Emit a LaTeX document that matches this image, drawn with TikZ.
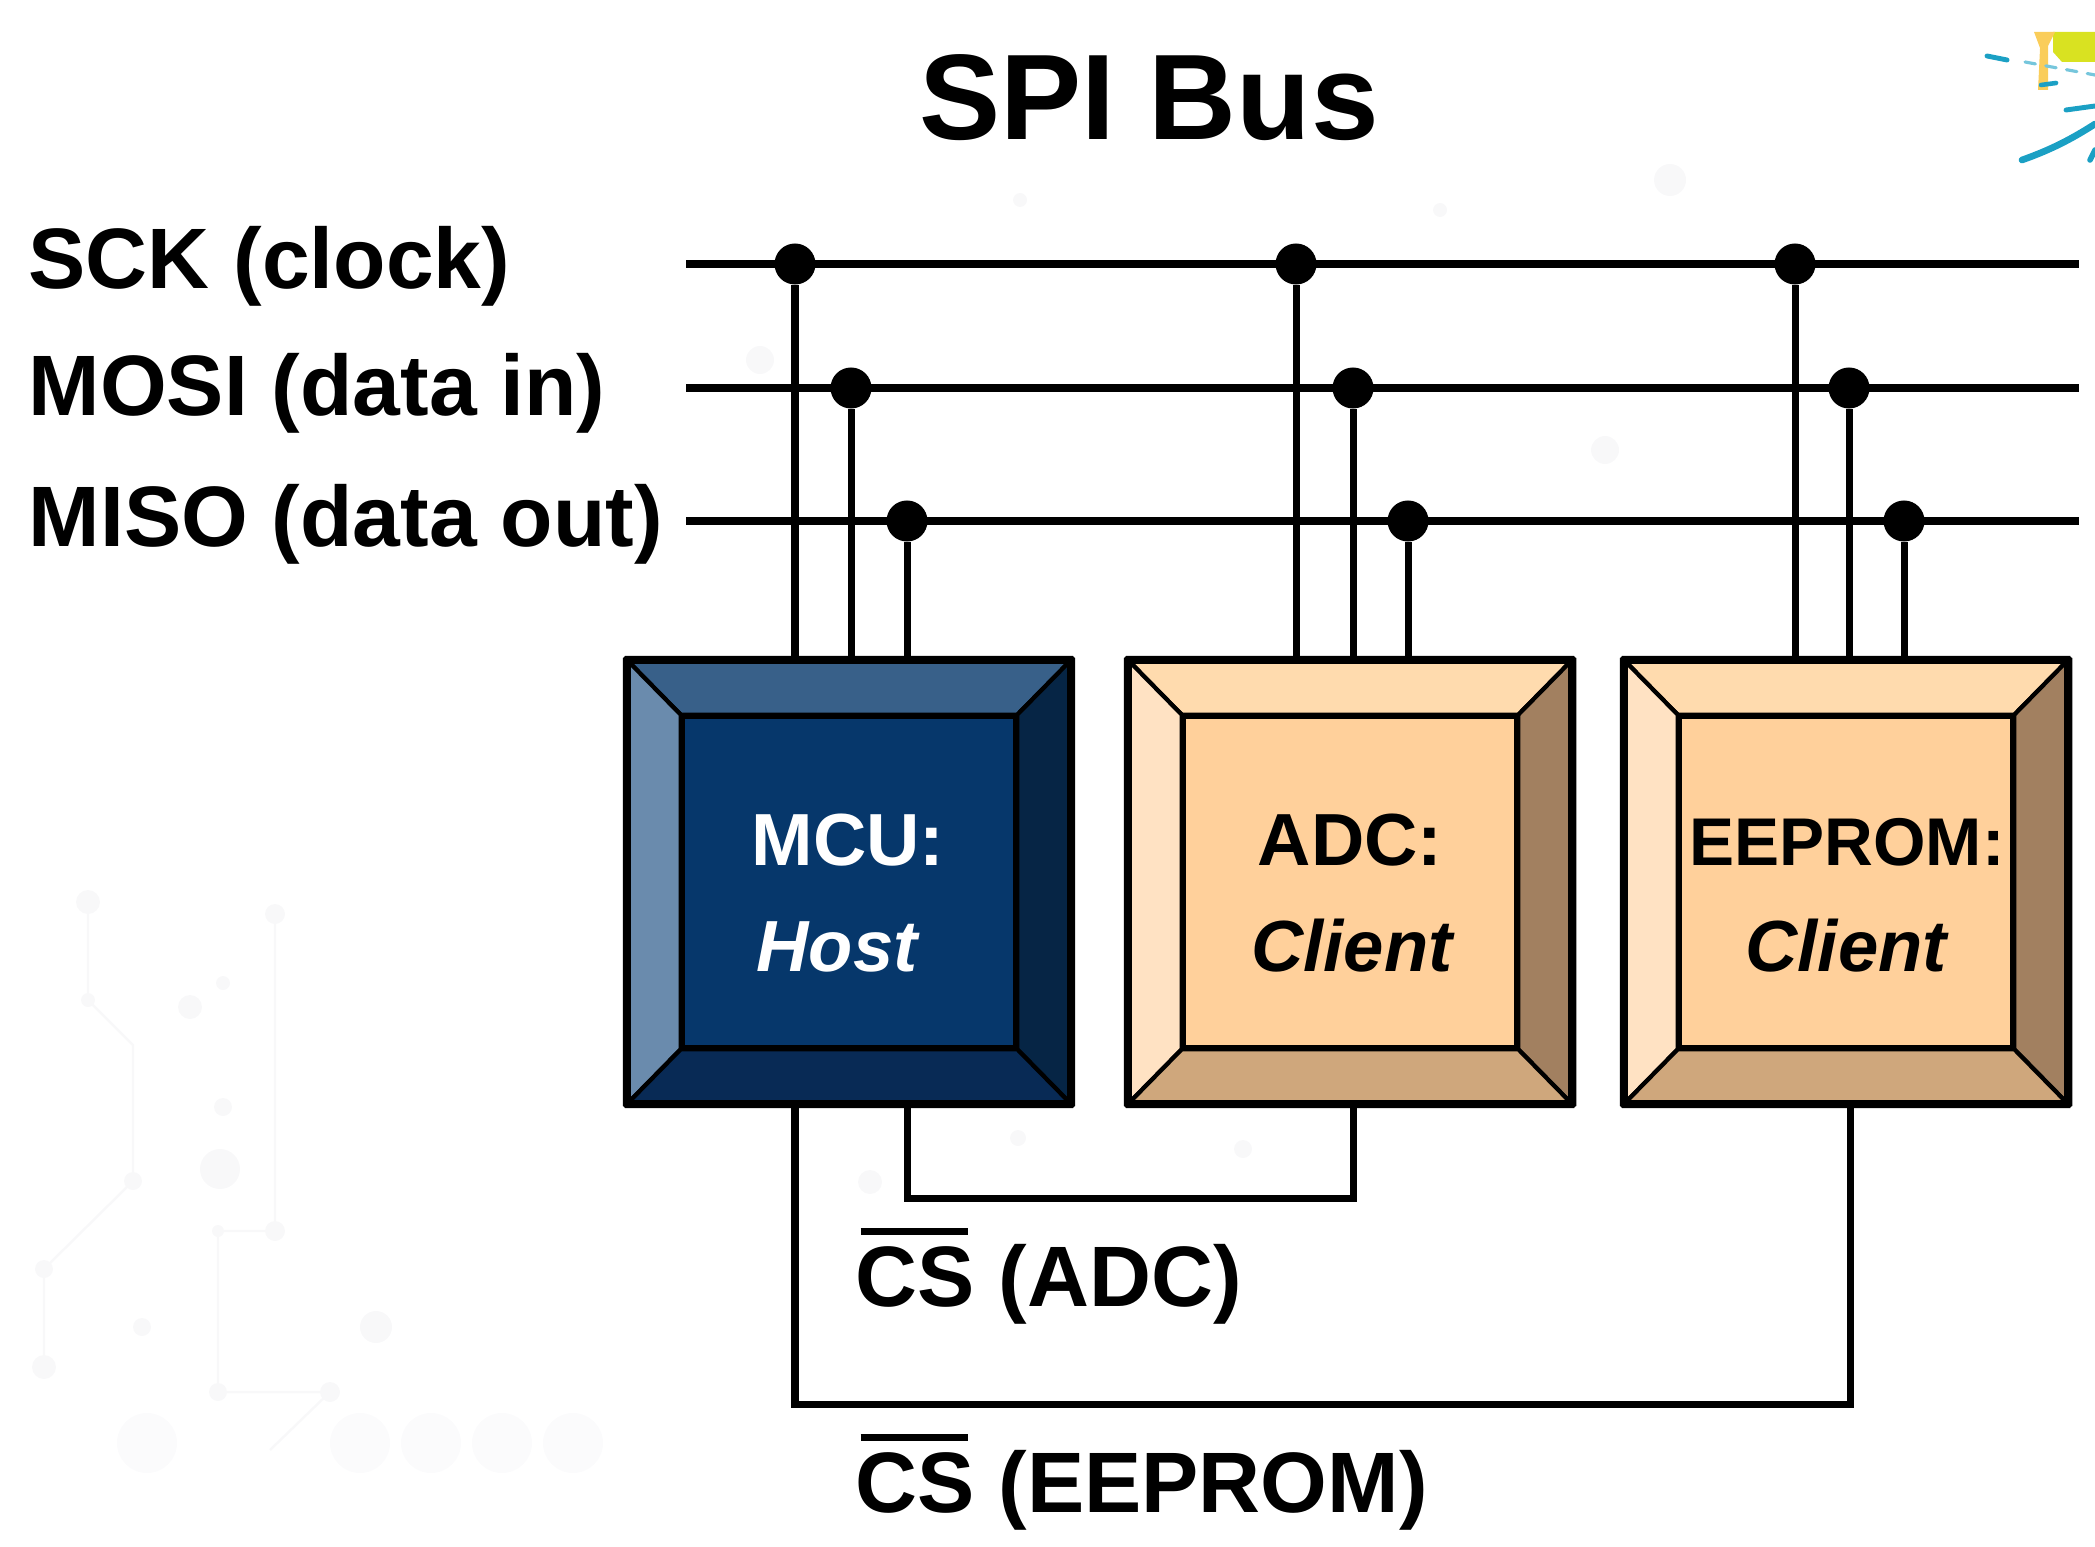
\documentclass[tikz,border=0pt]{standalone}
\usepackage{fontspec}
\setmainfont{Liberation Sans}
\usetikzlibrary{calc}

\definecolor{mcuface}{RGB}{6,55,107}
\definecolor{mcutop}{RGB}{56,96,137}
\definecolor{mculeft}{RGB}{106,139,173}
\definecolor{mcuright}{RGB}{6,37,69}
\definecolor{mcubottom}{RGB}{8,42,85}
\definecolor{clientface}{RGB}{255,208,155}
\definecolor{clienttop}{RGB}{255,219,174}
\definecolor{clientleft}{RGB}{255,226,195}
\definecolor{clientright}{RGB}{162,128,96}
\definecolor{clientbottom}{RGB}{207,167,124}
\definecolor{faint}{RGB}{248,248,249}
\definecolor{fainter}{RGB}{251,251,252}
\definecolor{logoblue}{RGB}{27,160,196}
\definecolor{logolime}{RGB}{217,226,33}
\definecolor{logoamber}{RGB}{250,205,90}

\tikzset{
  wire/.style={line width=2pt},
  dot/.style={circle, fill=black, minimum size=0.41cm, inner sep=0pt},
  chip/.style={rectangle, draw=black, line width=1.7pt, minimum width=4.42cm, minimum height=4.42cm},
  face/.style={rectangle, draw=black, line width=1.2pt, minimum width=3.32cm, minimum height=3.3cm},
  bevel/.style={draw=black, line width=1.2pt, line join=bevel},
  label/.style={font=\fontsize{24.4}{28}\selectfont\bfseries, anchor=base west, inner sep=0pt},
  chipname/.style={font=\fontsize{21}{24}\selectfont\bfseries, anchor=base, inner sep=0pt},
  chiprole/.style={font=\fontsize{20.6}{24}\selectfont\bfseries\itshape, anchor=base, inner sep=0pt},
  trace/.style={draw=faint, line width=0.7pt},
  spot/.style={fill=faint},
}

% one bevelled box: name, centre x, colour prefix
\newcommand{\chipbox}[3]{
  \node (#1) [chip, fill=#3face] at (#2,882) {};
  \node (#1-face) [face, fill=#3face] at (#2,882) {};
  \filldraw[#3top, bevel] (#1.north west) -- (#1.north east) -- (#1-face.north east) -- (#1-face.north west) -- cycle;
  \filldraw[#3left, bevel] (#1.north west) -- (#1.south west) -- (#1-face.south west) -- (#1-face.north west) -- cycle;
  \filldraw[#3right, bevel] (#1.north east) -- (#1.south east) -- (#1-face.south east) -- (#1-face.north east) -- cycle;
  \filldraw[#3bottom, bevel] (#1.south west) -- (#1.south east) -- (#1-face.south east) -- (#1-face.south west) -- cycle;
  \node [chip, fill=none] at (#2,882) {};
}
\newcommand{\barcs}{\rlap{\hspace{1.4pt}\rule[20.2pt]{30.4pt}{2pt}}CS}

\begin{document}
\begin{tikzpicture}[x=0.01cm, y=-0.01cm]
  \useasboundingbox (0,0) rectangle (2095,1546);

  % faint circuit behind everything
  \draw[trace] (88,902) -- (88,1000) -- (133,1045) -- (133,1181) -- (44,1269) -- (44,1367);
  \draw[trace] (275,914) -- (275,1231) -- (218,1231) -- (218,1392) -- (330,1392) -- (270,1450);
  \foreach \x/\y/\r in {88/902/12, 88/1000/7, 133/1181/9, 44/1269/9, 44/1367/12, 275/914/10, 275/1231/10,
      218/1231/6, 218/1392/9, 330/1392/10, 190/1007/12, 223/983/7, 223/1107/9, 220/1169/20, 376/1327/16,
      142/1327/9, 870/1182/12, 1018/1138/8, 1243/1149/9, 1670/180/16, 1440/210/7, 1605/450/14, 760/360/14,
      1020/200/7}
    \fill[spot] (\x,\y) circle (\r);
  \foreach \x in {147,360,431,502,573}
    \fill[fainter] (\x,1443) circle (30);

  % logo corner
  \fill[logolime] (2053,32) -- (2095,32) -- (2095,62) -- (2062,62) -- (2053,52) -- cycle;
  \fill[logoamber] (2034,32) -- (2055,32) -- (2048,46) -- (2048,90) -- (2038,90) -- (2040,48) -- cycle;
  \draw[logoblue, line width=1.4pt, line cap=round] (1987,56) -- (2007,60);
  \draw[logoblue!60, line width=0.9pt, line cap=round, dashed] (2025,62) -- (2095,75);
  \draw[logoblue, line width=1.3pt, line cap=round] (2041,85) -- (2056,83);
  \draw[logoblue, line width=1.4pt, line cap=round] (2066,110) -- (2095,106);
  \draw[logoblue, line width=1.9pt, line cap=round] (2022,160) .. controls (2050,150) and (2070,140) .. (2095,124);
  \draw[logoblue, line width=1.6pt, line cap=round] (2090,160) -- (2095,150);

  \node (title) [font=\fontsize{34.6}{40}\selectfont\bfseries, anchor=base, inner sep=0pt] at (1149,140) {SPI Bus};

  \node (sck-label) [label] at (28,288) {SCK (clock)};
  \node (mosi-label) [label] at (28,416) {MOSI (data in)};
  \node (miso-label) [label] at (28,546) {MISO (data out)};

  \coordinate (sck-start) at (686,264);
  \coordinate (sck-end) at (2079,264);
  \coordinate (mosi-start) at (686,388);
  \coordinate (mosi-end) at (2079,388);
  \coordinate (miso-start) at (686,521);
  \coordinate (miso-end) at (2079,521);

  \draw[wire] (sck-start) -- (sck-end);
  \draw[wire] (mosi-start) -- (mosi-end);
  \draw[wire] (miso-start) -- (miso-end);

  \chipbox{mcu}{849}{mcu}
  \chipbox{adc}{1350}{client}
  \chipbox{eeprom}{1846}{client}

  \node [chipname, white] (mcu-name) at (848,865) {MCU:};
  \node [chiprole, white] (mcu-role) at (837,971) {Host};
  \node [chipname] (adc-name) at (1350,865) {ADC:};
  \node [chiprole] (adc-role) at (1352,971) {Client};
  \node [chipname, font=\fontsize{19.2}{24}\selectfont\bfseries] (eeprom-name) at (1847,865) {EEPROM:};
  \node [chiprole] (eeprom-role) at (1846,971) {Client};

  \node (sck-mcu) [dot] at (795,264) {};
  \node (mosi-mcu) [dot] at (851,388) {};
  \node (miso-mcu) [dot] at (907,521) {};
  \node (sck-adc) [dot] at (1296,264) {};
  \node (mosi-adc) [dot] at (1353,388) {};
  \node (miso-adc) [dot] at (1408,521) {};
  \node (sck-eeprom) [dot] at (1795,264) {};
  \node (mosi-eeprom) [dot] at (1849,388) {};
  \node (miso-eeprom) [dot] at (1904,521) {};

  \foreach \bus in {sck,mosi,miso}
    \foreach \part in {mcu,adc,eeprom}
      \draw[wire] (\bus-\part) -- (\bus-\part |- \part.north);

  \coordinate (cs-adc-out) at (907,1103);
  \coordinate (cs-eeprom-out) at (795,1103);
  \coordinate (cs-adc-in) at (1353,1103);
  \coordinate (cs-eeprom-in) at (1850,1103);

  \draw[wire] (cs-adc-out) -- (907,1198) -- (1353,1198) -- (cs-adc-in);
  \draw[wire] (cs-eeprom-out) -- (795,1404) -- (1850,1404) -- (cs-eeprom-in);

  \node (cs-adc) [label] at (855,1306) {\barcs{} (ADC)};
  \node (cs-eeprom) [label] at (855,1512) {\barcs{} (EEPROM)};
\end{tikzpicture}
\end{document}
